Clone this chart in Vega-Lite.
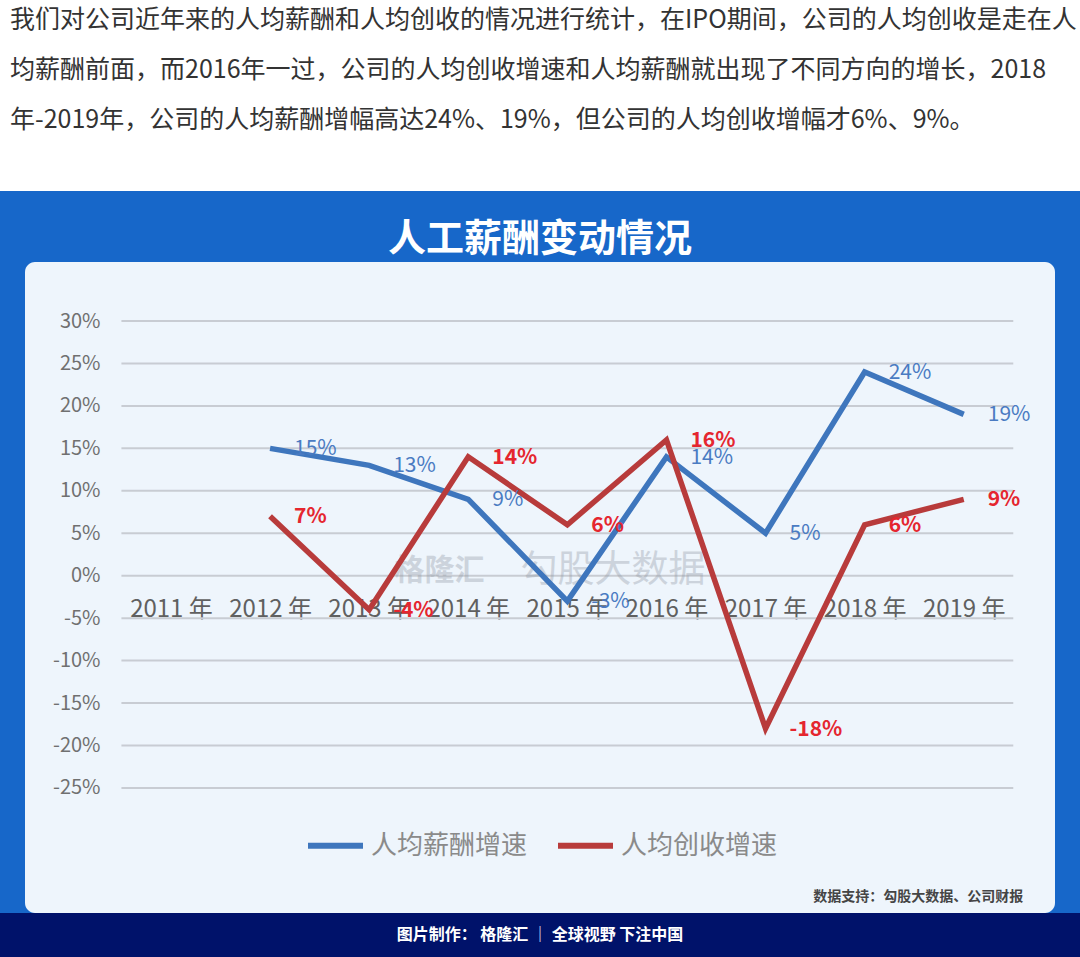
{
  "$schema": "https://vega.github.io/schema/vega-lite/v6.json",
  "background": "#1767c9",
  "padding": 0,
  "spacing": 0,
  "center": true,
  "config": {
    "font": "Noto Sans CJK SC",
    "view": {"stroke": null},
    "locale": {"number": {"decimal": ".", "thousands": ",", "grouping": [3], "currency": ["$", ""], "minus": "-"}}
  },
  "vconcat": [
    {
      "width": 1080,
      "height": 191,
      "view": {"fill": "#ffffff", "stroke": null},
      "title": {
        "text": "人工薪酬变动情况",
        "orient": "bottom",
        "anchor": "middle",
        "color": "#ffffff",
        "fontSize": 38,
        "fontWeight": "bold",
        "font": "Noto Sans CJK SC",
        "baseline": "top",
        "offset": 30,
        "subtitle": " ",
        "subtitleFontSize": 3,
        "subtitlePadding": 0
      },
      "data": {
        "values": [
          {"line": 1, "text": "我们对公司近年来的人均薪酬和人均创收的情况进行统计，在IPO期间，公司的人均创收是走在人"},
          {"line": 2, "text": "均薪酬前面，而2016年一过，公司的人均创收增速和人均薪酬就出现了不同方向的增长，2018"},
          {"line": 3, "text": "年-2019年，公司的人均薪酬增幅高达24%、19%，但公司的人均创收增幅才6%、9%。"}
        ]
      },
      "mark": {"type": "text", "align": "left", "baseline": "middle", "fontSize": 25, "color": "#333333", "dx": 10},
      "encoding": {
        "x": {"datum": 0, "type": "quantitative", "scale": {"domain": [0, 1]}, "axis": null},
        "y": {"field": "line", "type": "quantitative", "scale": {"domain": [0.6, 4.42], "reverse": true, "nice": false, "zero": false}, "axis": null},
        "text": {"field": "text"}
      }
    },
    {
      "width": 1030,
      "height": 651,
      "view": {"fill": "#eef5fc", "stroke": null, "cornerRadius": 10},
      "data": {
        "values": [
          {"year": 2012, "series": "人均薪酬增速", "value": 0.15},
          {"year": 2013, "series": "人均薪酬增速", "value": 0.13},
          {"year": 2014, "series": "人均薪酬增速", "value": 0.09},
          {"year": 2015, "series": "人均薪酬增速", "value": -0.03},
          {"year": 2016, "series": "人均薪酬增速", "value": 0.14},
          {"year": 2017, "series": "人均薪酬增速", "value": 0.05},
          {"year": 2018, "series": "人均薪酬增速", "value": 0.24},
          {"year": 2019, "series": "人均薪酬增速", "value": 0.19},
          {"year": 2012, "series": "人均创收增速", "value": 0.07},
          {"year": 2013, "series": "人均创收增速", "value": -0.04},
          {"year": 2014, "series": "人均创收增速", "value": 0.14},
          {"year": 2015, "series": "人均创收增速", "value": 0.06},
          {"year": 2016, "series": "人均创收增速", "value": 0.16},
          {"year": 2017, "series": "人均创收增速", "value": -0.18},
          {"year": 2018, "series": "人均创收增速", "value": 0.06},
          {"year": 2019, "series": "人均创收增速", "value": 0.09}
        ]
      },
      "layer": [
        {
          "data": {"values": [
            {"value": -0.25}, {"value": -0.2}, {"value": -0.15}, {"value": -0.1}, {"value": -0.05}, {"value": 0},
            {"value": 0.05}, {"value": 0.1}, {"value": 0.15}, {"value": 0.2}, {"value": 0.25}, {"value": 0.3}
          ]},
          "mark": {"type": "rule", "color": "#c8ccd3", "strokeWidth": 2},
          "encoding": {
            "x": {"datum": 2010.5, "type": "quantitative", "scale": {"domain": [2009.527, 2019.921], "nice": false, "zero": false}},
            "x2": {"datum": 2019.5},
            "y": {"field": "value", "type": "quantitative", "scale": {"domain": [-0.3973, 0.3695], "nice": false, "zero": false}}
          }
        },
        {
          "data": {"values": [{"label": "格隆汇"}]},
          "mark": {"type": "text", "fontSize": 30, "fontWeight": "bold", "color": "#8f96a2", "opacity": 0.35, "baseline": "middle"},
          "encoding": {
            "x": {"datum": 2013.71, "type": "quantitative", "scale": {"domain": [2009.527, 2019.921], "nice": false, "zero": false}},
            "y": {"datum": 0.005, "type": "quantitative", "scale": {"domain": [-0.3973, 0.3695], "nice": false, "zero": false}},
            "text": {"field": "label"}
          }
        },
        {
          "data": {"values": [{"label": "勾股大数据"}]},
          "mark": {"type": "text", "fontSize": 37, "color": "#8f96a2", "opacity": 0.35, "baseline": "middle"},
          "encoding": {
            "x": {"datum": 2015.46, "type": "quantitative", "scale": {"domain": [2009.527, 2019.921], "nice": false, "zero": false}},
            "y": {"datum": 0.005, "type": "quantitative", "scale": {"domain": [-0.3973, 0.3695], "nice": false, "zero": false}},
            "text": {"field": "label"}
          }
        },
        {
          "mark": {"type": "line", "strokeWidth": 5.5, "strokeJoin": "miter"},
          "encoding": {
            "x": {
              "field": "year",
              "type": "quantitative",
              "scale": {"domain": [2009.527, 2019.921], "nice": false, "zero": false},
              "axis": {
                "values": [2011, 2012, 2013, 2014, 2015, 2016, 2017, 2018, 2019],
                "labelExpr": "datum.value + ' 年'",
                "domain": false,
                "ticks": false,
                "grid": false,
                "offset": -318,
                "labelPadding": 2,
                "labelFontSize": 24,
                "labelColor": "#606060",
                "labelFlush": false,
                "labelOverlap": false,
                "title": null
              }
            },
            "y": {
              "field": "value",
              "type": "quantitative",
              "scale": {"domain": [-0.3973, 0.3695], "nice": false, "zero": false},
              "axis": {
                "values": [-0.25, -0.2, -0.15, -0.1, -0.05, 0, 0.05, 0.1, 0.15, 0.2, 0.25, 0.3],
                "format": ".0%",
                "domain": false,
                "ticks": false,
                "grid": false,
                "offset": -79,
                "labelPadding": 4,
                "labelFontSize": 20,
                "labelColor": "#707070",
                "labelOverlap": false,
                "title": null
              }
            },
            "color": {
              "field": "series",
              "type": "nominal",
              "scale": {"domain": ["人均薪酬增速", "人均创收增速"], "range": ["#3e76bd", "#b83b3b"]},
              "legend": {
                "orient": "none",
                "legendX": 305,
                "legendY": 815,
                "direction": "horizontal",
                "title": null,
                "symbolType": "stroke",
                "symbolSize": 3025,
                "symbolStrokeWidth": 6,
                "labelFontSize": 26,
                "labelColor": "#8a8a8a",
                "labelOffset": 5,
                "columnPadding": 18,
                "labelLimit": 300,
                "padding": 0
              }
            }
          }
        },
        {
          "transform": [{"filter": "datum.series === '人均薪酬增速'"}],
          "mark": {"type": "text", "align": "left", "baseline": "middle", "dx": 24, "dy": 1, "fontSize": 21, "color": "#4a7bc2"},
          "encoding": {
            "x": {"field": "year", "type": "quantitative", "scale": {"domain": [2009.527, 2019.921], "nice": false, "zero": false}},
            "y": {"field": "value", "type": "quantitative", "scale": {"domain": [-0.3973, 0.3695], "nice": false, "zero": false}},
            "text": {"field": "value", "type": "quantitative", "format": ".0%"}
          }
        },
        {
          "transform": [{"filter": "datum.series === '人均创收增速'"}],
          "mark": {"type": "text", "align": "left", "baseline": "middle", "dx": 24, "dy": 1, "fontSize": 21, "fontWeight": "bold", "color": "#e5262f"},
          "encoding": {
            "x": {"field": "year", "type": "quantitative", "scale": {"domain": [2009.527, 2019.921], "nice": false, "zero": false}},
            "y": {"field": "value", "type": "quantitative", "scale": {"domain": [-0.3973, 0.3695], "nice": false, "zero": false}},
            "text": {"field": "value", "type": "quantitative", "format": ".0%"}
          }
        },
        {
          "data": {"values": [{"label": "数据支持：勾股大数据、公司财报"}]},
          "mark": {"type": "text", "align": "right", "baseline": "middle", "fontSize": 14, "fontWeight": "bold", "color": "#454545"},
          "encoding": {
            "x": {"datum": 2019.6, "type": "quantitative", "scale": {"domain": [2009.527, 2019.921], "nice": false, "zero": false}},
            "y": {"datum": -0.3785, "type": "quantitative", "scale": {"domain": [-0.3973, 0.3695], "nice": false, "zero": false}},
            "text": {"field": "label"}
          }
        }
      ]
    },
    {
      "width": 1080,
      "height": 44,
      "view": {"fill": "#00126a", "stroke": null},
      "data": {"values": [{"label": "图片制作：  格隆汇  │  全球视野 下注中国"}]},
      "mark": {"type": "text", "color": "#ffffff", "fontSize": 16, "fontWeight": "bold", "baseline": "middle"},
      "encoding": {"text": {"field": "label"}}
    }
  ]
}
